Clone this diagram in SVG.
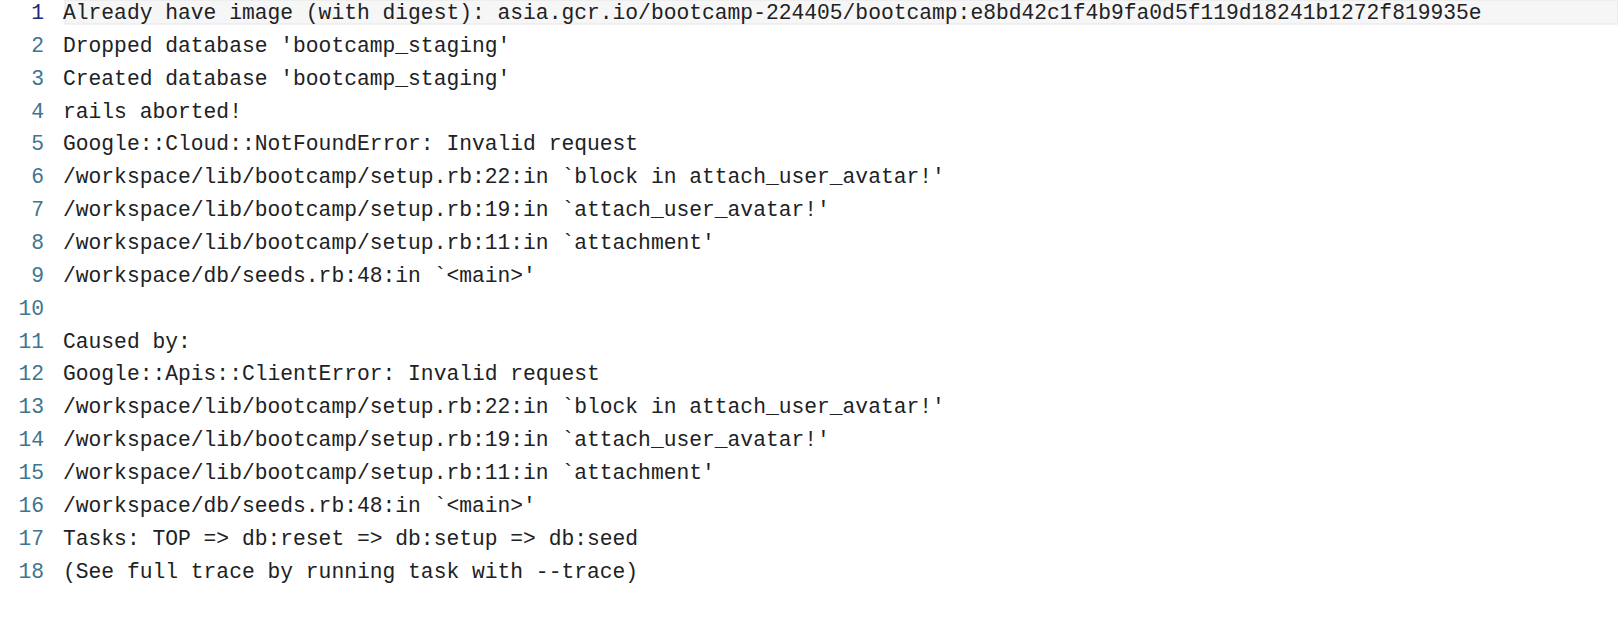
<svg xmlns="http://www.w3.org/2000/svg" width="1618" height="636" viewBox="0 0 1618 636">
<style>
.t{font-family:"Liberation Mono","DejaVu Sans Mono",monospace;font-size:21.3px;fill:#202124}
.n{font-family:"Liberation Mono","DejaVu Sans Mono",monospace;font-size:21.3px;fill:#3d7591;text-anchor:end}
</style>
<rect width="1618" height="636" fill="#fff"/>
<rect x="65" y="0" width="1553" height="24" fill="#f6f6f6" stroke="#e6e6e6" stroke-width="1"/>
<g id="numbers">
<text class="n" x="44" y="19" style="fill:#1a2a7a">1</text>
<text class="n" x="44" y="52">2</text>
<text class="n" x="44" y="85">3</text>
<text class="n" x="44" y="118">4</text>
<text class="n" x="44" y="150">5</text>
<text class="n" x="44" y="183">6</text>
<text class="n" x="44" y="216">7</text>
<text class="n" x="44" y="249">8</text>
<text class="n" x="44" y="282">9</text>
<text class="n" x="44" y="315">10</text>
<text class="n" x="44" y="348">11</text>
<text class="n" x="44" y="380">12</text>
<text class="n" x="44" y="413">13</text>
<text class="n" x="44" y="446">14</text>
<text class="n" x="44" y="479">15</text>
<text class="n" x="44" y="512">16</text>
<text class="n" x="44" y="545">17</text>
<text class="n" x="44" y="578">18</text>
</g>
<g id="lines" xml:space="preserve">
<text class="t" x="63" y="19">Already have image (with digest): asia.gcr.io/bootcamp-224405/bootcamp:e8bd42c1f4b9fa0d5f119d18241b1272f819935e</text>
<text class="t" x="63" y="52">Dropped database 'bootcamp_staging'</text>
<text class="t" x="63" y="85">Created database 'bootcamp_staging'</text>
<text class="t" x="63" y="118">rails aborted!</text>
<text class="t" x="63" y="150">Google::Cloud::NotFoundError: Invalid request</text>
<text class="t" x="63" y="183">/workspace/lib/bootcamp/setup.rb:22:in `block in attach_user_avatar!'</text>
<text class="t" x="63" y="216">/workspace/lib/bootcamp/setup.rb:19:in `attach_user_avatar!'</text>
<text class="t" x="63" y="249">/workspace/lib/bootcamp/setup.rb:11:in `attachment'</text>
<text class="t" x="63" y="282">/workspace/db/seeds.rb:48:in `&lt;main&gt;'</text>
<text class="t" x="63" y="348">Caused by:</text>
<text class="t" x="63" y="380">Google::Apis::ClientError: Invalid request</text>
<text class="t" x="63" y="413">/workspace/lib/bootcamp/setup.rb:22:in `block in attach_user_avatar!'</text>
<text class="t" x="63" y="446">/workspace/lib/bootcamp/setup.rb:19:in `attach_user_avatar!'</text>
<text class="t" x="63" y="479">/workspace/lib/bootcamp/setup.rb:11:in `attachment'</text>
<text class="t" x="63" y="512">/workspace/db/seeds.rb:48:in `&lt;main&gt;'</text>
<text class="t" x="63" y="545">Tasks: TOP =&gt; db:reset =&gt; db:setup =&gt; db:seed</text>
<text class="t" x="63" y="578">(See full trace by running task with --trace)</text>
</g>
</svg>
